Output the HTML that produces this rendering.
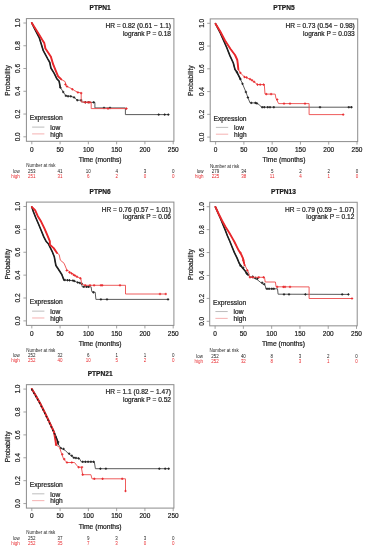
<!DOCTYPE html>
<html><head><meta charset="utf-8"><style>
html,body{margin:0;padding:0;background:#fff;width:367px;height:550px;overflow:hidden}
svg{display:block;font-family:"Liberation Sans", sans-serif;filter:blur(0.3px)}
text{stroke-width:0.2px;paint-order:normal}
</style></head><body>
<svg width="367" height="550" viewBox="0 0 367 550">
<rect width="367" height="550" fill="#fff"/>
<g transform="translate(0,0) scale(1,1)">
<text x="100.15" y="10.1" text-anchor="middle" font-weight="bold" font-size="6.6" fill="#1a1a1a" stroke="#1a1a1a">PTPN1</text>
<rect x="26.4" y="18.6" width="147.50" height="122.70" fill="none" stroke="#8c8c8c" stroke-width="1.0"/>
<line x1="31.80" y1="141.3" x2="31.80" y2="144.3" stroke="#8c8c8c" stroke-width="0.8"/>
<text x="31.80" y="151.6" text-anchor="middle" font-size="6.5" fill="#1a1a1a" stroke="#1a1a1a">0</text>
<line x1="60.08" y1="141.3" x2="60.08" y2="144.3" stroke="#8c8c8c" stroke-width="0.8"/>
<text x="60.08" y="151.6" text-anchor="middle" font-size="6.5" fill="#1a1a1a" stroke="#1a1a1a">50</text>
<line x1="88.36" y1="141.3" x2="88.36" y2="144.3" stroke="#8c8c8c" stroke-width="0.8"/>
<text x="88.36" y="151.6" text-anchor="middle" font-size="6.5" fill="#1a1a1a" stroke="#1a1a1a">100</text>
<line x1="116.64" y1="141.3" x2="116.64" y2="144.3" stroke="#8c8c8c" stroke-width="0.8"/>
<text x="116.64" y="151.6" text-anchor="middle" font-size="6.5" fill="#1a1a1a" stroke="#1a1a1a">150</text>
<line x1="144.92" y1="141.3" x2="144.92" y2="144.3" stroke="#8c8c8c" stroke-width="0.8"/>
<text x="144.92" y="151.6" text-anchor="middle" font-size="6.5" fill="#1a1a1a" stroke="#1a1a1a">200</text>
<line x1="173.20" y1="141.3" x2="173.20" y2="144.3" stroke="#8c8c8c" stroke-width="0.8"/>
<text x="173.20" y="151.6" text-anchor="middle" font-size="6.5" fill="#1a1a1a" stroke="#1a1a1a">250</text>
<line x1="26.4" y1="136.80" x2="23.4" y2="136.80" stroke="#8c8c8c" stroke-width="0.8"/>
<text transform="translate(20.2,136.80) rotate(-90)" text-anchor="middle" font-size="6.5" fill="#1a1a1a" stroke="#1a1a1a">0.0</text>
<line x1="26.4" y1="114.04" x2="23.4" y2="114.04" stroke="#8c8c8c" stroke-width="0.8"/>
<text transform="translate(20.2,114.04) rotate(-90)" text-anchor="middle" font-size="6.5" fill="#1a1a1a" stroke="#1a1a1a">0.2</text>
<line x1="26.4" y1="91.28" x2="23.4" y2="91.28" stroke="#8c8c8c" stroke-width="0.8"/>
<text transform="translate(20.2,91.28) rotate(-90)" text-anchor="middle" font-size="6.5" fill="#1a1a1a" stroke="#1a1a1a">0.4</text>
<line x1="26.4" y1="68.52" x2="23.4" y2="68.52" stroke="#8c8c8c" stroke-width="0.8"/>
<text transform="translate(20.2,68.52) rotate(-90)" text-anchor="middle" font-size="6.5" fill="#1a1a1a" stroke="#1a1a1a">0.6</text>
<line x1="26.4" y1="45.76" x2="23.4" y2="45.76" stroke="#8c8c8c" stroke-width="0.8"/>
<text transform="translate(20.2,45.76) rotate(-90)" text-anchor="middle" font-size="6.5" fill="#1a1a1a" stroke="#1a1a1a">0.8</text>
<line x1="26.4" y1="23.00" x2="23.4" y2="23.00" stroke="#8c8c8c" stroke-width="0.8"/>
<text transform="translate(20.2,23.00) rotate(-90)" text-anchor="middle" font-size="6.5" fill="#1a1a1a" stroke="#1a1a1a">1.0</text>
<text transform="translate(9.5,80.4) rotate(-90)" text-anchor="middle" font-size="6.55" fill="#1a1a1a" stroke="#1a1a1a">Probability</text>
<text x="100.15" y="161.7" text-anchor="middle" font-size="6.7" fill="#1a1a1a" stroke="#1a1a1a">Time (months)</text>
<text x="171" y="28.0" text-anchor="end" font-size="6.6" fill="#1a1a1a" stroke="#1a1a1a">HR = 0.82 (0.61 − 1.1)</text>
<text x="171" y="35.6" text-anchor="end" font-size="6.6" fill="#1a1a1a" stroke="#1a1a1a">logrank P = 0.18</text>
<text x="29.7" y="120.4" font-size="6.7" fill="#1a1a1a" stroke="#1a1a1a">Expression</text>
<line x1="32.1" y1="127.1" x2="44.4" y2="127.1" stroke="#a0a0a0" stroke-width="0.7"/>
<line x1="32.1" y1="133.9" x2="44.4" y2="133.9" stroke="#f09090" stroke-width="0.7"/>
<text x="50.3" y="129.8" font-size="6.6" fill="#1a1a1a" stroke="#1a1a1a">low</text>
<text x="50.3" y="136.6" font-size="6.6" fill="#1a1a1a" stroke="#1a1a1a">high</text>
<text x="26.2" y="167.3" font-size="4.5" fill="#1a1a1a" stroke="none">Number at risk</text>
<text x="19.8" y="172.9" text-anchor="end" font-size="4.5" fill="#1a1a1a" stroke="none">low</text>
<text x="19.8" y="177.9" text-anchor="end" font-size="4.5" fill="#e8282c" stroke="none">high</text>
<text x="31.80" y="172.9" text-anchor="middle" font-size="4.5" fill="#1a1a1a" stroke="none">253</text>
<text x="31.80" y="177.9" text-anchor="middle" font-size="4.5" fill="#e8282c" stroke="none">251</text>
<text x="60.08" y="172.9" text-anchor="middle" font-size="4.5" fill="#1a1a1a" stroke="none">41</text>
<text x="60.08" y="177.9" text-anchor="middle" font-size="4.5" fill="#e8282c" stroke="none">31</text>
<text x="88.36" y="172.9" text-anchor="middle" font-size="4.5" fill="#1a1a1a" stroke="none">10</text>
<text x="88.36" y="177.9" text-anchor="middle" font-size="4.5" fill="#e8282c" stroke="none">6</text>
<text x="116.64" y="172.9" text-anchor="middle" font-size="4.5" fill="#1a1a1a" stroke="none">4</text>
<text x="116.64" y="177.9" text-anchor="middle" font-size="4.5" fill="#e8282c" stroke="none">2</text>
<text x="144.92" y="172.9" text-anchor="middle" font-size="4.5" fill="#1a1a1a" stroke="none">3</text>
<text x="144.92" y="177.9" text-anchor="middle" font-size="4.5" fill="#e8282c" stroke="none">0</text>
<text x="173.20" y="172.9" text-anchor="middle" font-size="4.5" fill="#1a1a1a" stroke="none">0</text>
<text x="173.20" y="177.9" text-anchor="middle" font-size="4.5" fill="#e8282c" stroke="none">0</text>
</g><g transform="translate(183.8,0.3) scale(1,1.0)">
<text x="100.15" y="10.1" text-anchor="middle" font-weight="bold" font-size="6.6" fill="#1a1a1a" stroke="#1a1a1a">PTPN5</text>
<rect x="26.4" y="18.6" width="147.50" height="122.70" fill="none" stroke="#8c8c8c" stroke-width="1.0"/>
<line x1="31.80" y1="141.3" x2="31.80" y2="144.3" stroke="#8c8c8c" stroke-width="0.8"/>
<text x="31.80" y="151.6" text-anchor="middle" font-size="6.5" fill="#1a1a1a" stroke="#1a1a1a">0</text>
<line x1="60.08" y1="141.3" x2="60.08" y2="144.3" stroke="#8c8c8c" stroke-width="0.8"/>
<text x="60.08" y="151.6" text-anchor="middle" font-size="6.5" fill="#1a1a1a" stroke="#1a1a1a">50</text>
<line x1="88.36" y1="141.3" x2="88.36" y2="144.3" stroke="#8c8c8c" stroke-width="0.8"/>
<text x="88.36" y="151.6" text-anchor="middle" font-size="6.5" fill="#1a1a1a" stroke="#1a1a1a">100</text>
<line x1="116.64" y1="141.3" x2="116.64" y2="144.3" stroke="#8c8c8c" stroke-width="0.8"/>
<text x="116.64" y="151.6" text-anchor="middle" font-size="6.5" fill="#1a1a1a" stroke="#1a1a1a">150</text>
<line x1="144.92" y1="141.3" x2="144.92" y2="144.3" stroke="#8c8c8c" stroke-width="0.8"/>
<text x="144.92" y="151.6" text-anchor="middle" font-size="6.5" fill="#1a1a1a" stroke="#1a1a1a">200</text>
<line x1="173.20" y1="141.3" x2="173.20" y2="144.3" stroke="#8c8c8c" stroke-width="0.8"/>
<text x="173.20" y="151.6" text-anchor="middle" font-size="6.5" fill="#1a1a1a" stroke="#1a1a1a">250</text>
<line x1="26.4" y1="136.80" x2="23.4" y2="136.80" stroke="#8c8c8c" stroke-width="0.8"/>
<text transform="translate(20.2,136.80) rotate(-90)" text-anchor="middle" font-size="6.5" fill="#1a1a1a" stroke="#1a1a1a">0.0</text>
<line x1="26.4" y1="114.04" x2="23.4" y2="114.04" stroke="#8c8c8c" stroke-width="0.8"/>
<text transform="translate(20.2,114.04) rotate(-90)" text-anchor="middle" font-size="6.5" fill="#1a1a1a" stroke="#1a1a1a">0.2</text>
<line x1="26.4" y1="91.28" x2="23.4" y2="91.28" stroke="#8c8c8c" stroke-width="0.8"/>
<text transform="translate(20.2,91.28) rotate(-90)" text-anchor="middle" font-size="6.5" fill="#1a1a1a" stroke="#1a1a1a">0.4</text>
<line x1="26.4" y1="68.52" x2="23.4" y2="68.52" stroke="#8c8c8c" stroke-width="0.8"/>
<text transform="translate(20.2,68.52) rotate(-90)" text-anchor="middle" font-size="6.5" fill="#1a1a1a" stroke="#1a1a1a">0.6</text>
<line x1="26.4" y1="45.76" x2="23.4" y2="45.76" stroke="#8c8c8c" stroke-width="0.8"/>
<text transform="translate(20.2,45.76) rotate(-90)" text-anchor="middle" font-size="6.5" fill="#1a1a1a" stroke="#1a1a1a">0.8</text>
<line x1="26.4" y1="23.00" x2="23.4" y2="23.00" stroke="#8c8c8c" stroke-width="0.8"/>
<text transform="translate(20.2,23.00) rotate(-90)" text-anchor="middle" font-size="6.5" fill="#1a1a1a" stroke="#1a1a1a">1.0</text>
<text transform="translate(9.5,80.4) rotate(-90)" text-anchor="middle" font-size="6.55" fill="#1a1a1a" stroke="#1a1a1a">Probability</text>
<text x="100.15" y="161.7" text-anchor="middle" font-size="6.7" fill="#1a1a1a" stroke="#1a1a1a">Time (months)</text>
<text x="171" y="28.0" text-anchor="end" font-size="6.6" fill="#1a1a1a" stroke="#1a1a1a">HR = 0.73 (0.54 − 0.98)</text>
<text x="171" y="35.6" text-anchor="end" font-size="6.6" fill="#1a1a1a" stroke="#1a1a1a">logrank P = 0.033</text>
<text x="29.7" y="120.4" font-size="6.7" fill="#1a1a1a" stroke="#1a1a1a">Expression</text>
<line x1="32.1" y1="127.1" x2="44.4" y2="127.1" stroke="#a0a0a0" stroke-width="0.7"/>
<line x1="32.1" y1="133.9" x2="44.4" y2="133.9" stroke="#f09090" stroke-width="0.7"/>
<text x="50.3" y="129.8" font-size="6.6" fill="#1a1a1a" stroke="#1a1a1a">low</text>
<text x="50.3" y="136.6" font-size="6.6" fill="#1a1a1a" stroke="#1a1a1a">high</text>
<text x="26.2" y="167.3" font-size="4.5" fill="#1a1a1a" stroke="none">Number at risk</text>
<text x="19.8" y="172.9" text-anchor="end" font-size="4.5" fill="#1a1a1a" stroke="none">low</text>
<text x="19.8" y="177.9" text-anchor="end" font-size="4.5" fill="#e8282c" stroke="none">high</text>
<text x="31.80" y="172.9" text-anchor="middle" font-size="4.5" fill="#1a1a1a" stroke="none">279</text>
<text x="31.80" y="177.9" text-anchor="middle" font-size="4.5" fill="#e8282c" stroke="none">225</text>
<text x="60.08" y="172.9" text-anchor="middle" font-size="4.5" fill="#1a1a1a" stroke="none">34</text>
<text x="60.08" y="177.9" text-anchor="middle" font-size="4.5" fill="#e8282c" stroke="none">38</text>
<text x="88.36" y="172.9" text-anchor="middle" font-size="4.5" fill="#1a1a1a" stroke="none">5</text>
<text x="88.36" y="177.9" text-anchor="middle" font-size="4.5" fill="#e8282c" stroke="none">11</text>
<text x="116.64" y="172.9" text-anchor="middle" font-size="4.5" fill="#1a1a1a" stroke="none">2</text>
<text x="116.64" y="177.9" text-anchor="middle" font-size="4.5" fill="#e8282c" stroke="none">4</text>
<text x="144.92" y="172.9" text-anchor="middle" font-size="4.5" fill="#1a1a1a" stroke="none">2</text>
<text x="144.92" y="177.9" text-anchor="middle" font-size="4.5" fill="#e8282c" stroke="none">1</text>
<text x="173.20" y="172.9" text-anchor="middle" font-size="4.5" fill="#1a1a1a" stroke="none">0</text>
<text x="173.20" y="177.9" text-anchor="middle" font-size="4.5" fill="#e8282c" stroke="none">0</text>
</g><g transform="translate(0,183.4) scale(1,1.005)">
<text x="100.15" y="10.1" text-anchor="middle" font-weight="bold" font-size="6.6" fill="#1a1a1a" stroke="#1a1a1a">PTPN6</text>
<rect x="26.4" y="18.6" width="147.50" height="122.70" fill="none" stroke="#8c8c8c" stroke-width="1.0"/>
<line x1="31.80" y1="141.3" x2="31.80" y2="144.3" stroke="#8c8c8c" stroke-width="0.8"/>
<text x="31.80" y="151.6" text-anchor="middle" font-size="6.5" fill="#1a1a1a" stroke="#1a1a1a">0</text>
<line x1="60.08" y1="141.3" x2="60.08" y2="144.3" stroke="#8c8c8c" stroke-width="0.8"/>
<text x="60.08" y="151.6" text-anchor="middle" font-size="6.5" fill="#1a1a1a" stroke="#1a1a1a">50</text>
<line x1="88.36" y1="141.3" x2="88.36" y2="144.3" stroke="#8c8c8c" stroke-width="0.8"/>
<text x="88.36" y="151.6" text-anchor="middle" font-size="6.5" fill="#1a1a1a" stroke="#1a1a1a">100</text>
<line x1="116.64" y1="141.3" x2="116.64" y2="144.3" stroke="#8c8c8c" stroke-width="0.8"/>
<text x="116.64" y="151.6" text-anchor="middle" font-size="6.5" fill="#1a1a1a" stroke="#1a1a1a">150</text>
<line x1="144.92" y1="141.3" x2="144.92" y2="144.3" stroke="#8c8c8c" stroke-width="0.8"/>
<text x="144.92" y="151.6" text-anchor="middle" font-size="6.5" fill="#1a1a1a" stroke="#1a1a1a">200</text>
<line x1="173.20" y1="141.3" x2="173.20" y2="144.3" stroke="#8c8c8c" stroke-width="0.8"/>
<text x="173.20" y="151.6" text-anchor="middle" font-size="6.5" fill="#1a1a1a" stroke="#1a1a1a">250</text>
<line x1="26.4" y1="136.80" x2="23.4" y2="136.80" stroke="#8c8c8c" stroke-width="0.8"/>
<text transform="translate(20.2,136.80) rotate(-90)" text-anchor="middle" font-size="6.5" fill="#1a1a1a" stroke="#1a1a1a">0.0</text>
<line x1="26.4" y1="114.04" x2="23.4" y2="114.04" stroke="#8c8c8c" stroke-width="0.8"/>
<text transform="translate(20.2,114.04) rotate(-90)" text-anchor="middle" font-size="6.5" fill="#1a1a1a" stroke="#1a1a1a">0.2</text>
<line x1="26.4" y1="91.28" x2="23.4" y2="91.28" stroke="#8c8c8c" stroke-width="0.8"/>
<text transform="translate(20.2,91.28) rotate(-90)" text-anchor="middle" font-size="6.5" fill="#1a1a1a" stroke="#1a1a1a">0.4</text>
<line x1="26.4" y1="68.52" x2="23.4" y2="68.52" stroke="#8c8c8c" stroke-width="0.8"/>
<text transform="translate(20.2,68.52) rotate(-90)" text-anchor="middle" font-size="6.5" fill="#1a1a1a" stroke="#1a1a1a">0.6</text>
<line x1="26.4" y1="45.76" x2="23.4" y2="45.76" stroke="#8c8c8c" stroke-width="0.8"/>
<text transform="translate(20.2,45.76) rotate(-90)" text-anchor="middle" font-size="6.5" fill="#1a1a1a" stroke="#1a1a1a">0.8</text>
<line x1="26.4" y1="23.00" x2="23.4" y2="23.00" stroke="#8c8c8c" stroke-width="0.8"/>
<text transform="translate(20.2,23.00) rotate(-90)" text-anchor="middle" font-size="6.5" fill="#1a1a1a" stroke="#1a1a1a">1.0</text>
<text transform="translate(9.5,80.4) rotate(-90)" text-anchor="middle" font-size="6.55" fill="#1a1a1a" stroke="#1a1a1a">Probability</text>
<text x="100.15" y="161.7" text-anchor="middle" font-size="6.7" fill="#1a1a1a" stroke="#1a1a1a">Time (months)</text>
<text x="171" y="28.0" text-anchor="end" font-size="6.6" fill="#1a1a1a" stroke="#1a1a1a">HR = 0.76 (0.57 − 1.01)</text>
<text x="171" y="35.6" text-anchor="end" font-size="6.6" fill="#1a1a1a" stroke="#1a1a1a">logrank P = 0.06</text>
<text x="29.7" y="120.4" font-size="6.7" fill="#1a1a1a" stroke="#1a1a1a">Expression</text>
<line x1="32.1" y1="127.1" x2="44.4" y2="127.1" stroke="#a0a0a0" stroke-width="0.7"/>
<line x1="32.1" y1="133.9" x2="44.4" y2="133.9" stroke="#f09090" stroke-width="0.7"/>
<text x="50.3" y="129.8" font-size="6.6" fill="#1a1a1a" stroke="#1a1a1a">low</text>
<text x="50.3" y="136.6" font-size="6.6" fill="#1a1a1a" stroke="#1a1a1a">high</text>
<text x="26.2" y="167.3" font-size="4.5" fill="#1a1a1a" stroke="none">Number at risk</text>
<text x="19.8" y="172.9" text-anchor="end" font-size="4.5" fill="#1a1a1a" stroke="none">low</text>
<text x="19.8" y="177.9" text-anchor="end" font-size="4.5" fill="#e8282c" stroke="none">high</text>
<text x="31.80" y="172.9" text-anchor="middle" font-size="4.5" fill="#1a1a1a" stroke="none">252</text>
<text x="31.80" y="177.9" text-anchor="middle" font-size="4.5" fill="#e8282c" stroke="none">252</text>
<text x="60.08" y="172.9" text-anchor="middle" font-size="4.5" fill="#1a1a1a" stroke="none">32</text>
<text x="60.08" y="177.9" text-anchor="middle" font-size="4.5" fill="#e8282c" stroke="none">40</text>
<text x="88.36" y="172.9" text-anchor="middle" font-size="4.5" fill="#1a1a1a" stroke="none">6</text>
<text x="88.36" y="177.9" text-anchor="middle" font-size="4.5" fill="#e8282c" stroke="none">10</text>
<text x="116.64" y="172.9" text-anchor="middle" font-size="4.5" fill="#1a1a1a" stroke="none">1</text>
<text x="116.64" y="177.9" text-anchor="middle" font-size="4.5" fill="#e8282c" stroke="none">5</text>
<text x="144.92" y="172.9" text-anchor="middle" font-size="4.5" fill="#1a1a1a" stroke="none">1</text>
<text x="144.92" y="177.9" text-anchor="middle" font-size="4.5" fill="#e8282c" stroke="none">2</text>
<text x="173.20" y="172.9" text-anchor="middle" font-size="4.5" fill="#1a1a1a" stroke="none">0</text>
<text x="173.20" y="177.9" text-anchor="middle" font-size="4.5" fill="#e8282c" stroke="none">0</text>
</g><g transform="translate(183.3,183.55) scale(1,1.007)">
<text x="100.15" y="10.1" text-anchor="middle" font-weight="bold" font-size="6.6" fill="#1a1a1a" stroke="#1a1a1a">PTPN13</text>
<rect x="26.4" y="18.6" width="147.50" height="122.70" fill="none" stroke="#8c8c8c" stroke-width="1.0"/>
<line x1="31.80" y1="141.3" x2="31.80" y2="144.3" stroke="#8c8c8c" stroke-width="0.8"/>
<text x="31.80" y="151.6" text-anchor="middle" font-size="6.5" fill="#1a1a1a" stroke="#1a1a1a">0</text>
<line x1="60.08" y1="141.3" x2="60.08" y2="144.3" stroke="#8c8c8c" stroke-width="0.8"/>
<text x="60.08" y="151.6" text-anchor="middle" font-size="6.5" fill="#1a1a1a" stroke="#1a1a1a">50</text>
<line x1="88.36" y1="141.3" x2="88.36" y2="144.3" stroke="#8c8c8c" stroke-width="0.8"/>
<text x="88.36" y="151.6" text-anchor="middle" font-size="6.5" fill="#1a1a1a" stroke="#1a1a1a">100</text>
<line x1="116.64" y1="141.3" x2="116.64" y2="144.3" stroke="#8c8c8c" stroke-width="0.8"/>
<text x="116.64" y="151.6" text-anchor="middle" font-size="6.5" fill="#1a1a1a" stroke="#1a1a1a">150</text>
<line x1="144.92" y1="141.3" x2="144.92" y2="144.3" stroke="#8c8c8c" stroke-width="0.8"/>
<text x="144.92" y="151.6" text-anchor="middle" font-size="6.5" fill="#1a1a1a" stroke="#1a1a1a">200</text>
<line x1="173.20" y1="141.3" x2="173.20" y2="144.3" stroke="#8c8c8c" stroke-width="0.8"/>
<text x="173.20" y="151.6" text-anchor="middle" font-size="6.5" fill="#1a1a1a" stroke="#1a1a1a">250</text>
<line x1="26.4" y1="136.80" x2="23.4" y2="136.80" stroke="#8c8c8c" stroke-width="0.8"/>
<text transform="translate(20.2,136.80) rotate(-90)" text-anchor="middle" font-size="6.5" fill="#1a1a1a" stroke="#1a1a1a">0.0</text>
<line x1="26.4" y1="114.04" x2="23.4" y2="114.04" stroke="#8c8c8c" stroke-width="0.8"/>
<text transform="translate(20.2,114.04) rotate(-90)" text-anchor="middle" font-size="6.5" fill="#1a1a1a" stroke="#1a1a1a">0.2</text>
<line x1="26.4" y1="91.28" x2="23.4" y2="91.28" stroke="#8c8c8c" stroke-width="0.8"/>
<text transform="translate(20.2,91.28) rotate(-90)" text-anchor="middle" font-size="6.5" fill="#1a1a1a" stroke="#1a1a1a">0.4</text>
<line x1="26.4" y1="68.52" x2="23.4" y2="68.52" stroke="#8c8c8c" stroke-width="0.8"/>
<text transform="translate(20.2,68.52) rotate(-90)" text-anchor="middle" font-size="6.5" fill="#1a1a1a" stroke="#1a1a1a">0.6</text>
<line x1="26.4" y1="45.76" x2="23.4" y2="45.76" stroke="#8c8c8c" stroke-width="0.8"/>
<text transform="translate(20.2,45.76) rotate(-90)" text-anchor="middle" font-size="6.5" fill="#1a1a1a" stroke="#1a1a1a">0.8</text>
<line x1="26.4" y1="23.00" x2="23.4" y2="23.00" stroke="#8c8c8c" stroke-width="0.8"/>
<text transform="translate(20.2,23.00) rotate(-90)" text-anchor="middle" font-size="6.5" fill="#1a1a1a" stroke="#1a1a1a">1.0</text>
<text transform="translate(9.5,80.4) rotate(-90)" text-anchor="middle" font-size="6.55" fill="#1a1a1a" stroke="#1a1a1a">Probability</text>
<text x="100.15" y="161.7" text-anchor="middle" font-size="6.7" fill="#1a1a1a" stroke="#1a1a1a">Time (months)</text>
<text x="171" y="28.0" text-anchor="end" font-size="6.6" fill="#1a1a1a" stroke="#1a1a1a">HR = 0.79 (0.59 − 1.07)</text>
<text x="171" y="35.6" text-anchor="end" font-size="6.6" fill="#1a1a1a" stroke="#1a1a1a">logrank P = 0.12</text>
<text x="29.7" y="120.4" font-size="6.7" fill="#1a1a1a" stroke="#1a1a1a">Expression</text>
<line x1="32.1" y1="127.1" x2="44.4" y2="127.1" stroke="#a0a0a0" stroke-width="0.7"/>
<line x1="32.1" y1="133.9" x2="44.4" y2="133.9" stroke="#f09090" stroke-width="0.7"/>
<text x="50.3" y="129.8" font-size="6.6" fill="#1a1a1a" stroke="#1a1a1a">low</text>
<text x="50.3" y="136.6" font-size="6.6" fill="#1a1a1a" stroke="#1a1a1a">high</text>
<text x="26.2" y="167.3" font-size="4.5" fill="#1a1a1a" stroke="none">Number at risk</text>
<text x="19.8" y="172.9" text-anchor="end" font-size="4.5" fill="#1a1a1a" stroke="none">low</text>
<text x="19.8" y="177.9" text-anchor="end" font-size="4.5" fill="#e8282c" stroke="none">high</text>
<text x="31.80" y="172.9" text-anchor="middle" font-size="4.5" fill="#1a1a1a" stroke="none">252</text>
<text x="31.80" y="177.9" text-anchor="middle" font-size="4.5" fill="#e8282c" stroke="none">252</text>
<text x="60.08" y="172.9" text-anchor="middle" font-size="4.5" fill="#1a1a1a" stroke="none">40</text>
<text x="60.08" y="177.9" text-anchor="middle" font-size="4.5" fill="#e8282c" stroke="none">32</text>
<text x="88.36" y="172.9" text-anchor="middle" font-size="4.5" fill="#1a1a1a" stroke="none">8</text>
<text x="88.36" y="177.9" text-anchor="middle" font-size="4.5" fill="#e8282c" stroke="none">8</text>
<text x="116.64" y="172.9" text-anchor="middle" font-size="4.5" fill="#1a1a1a" stroke="none">3</text>
<text x="116.64" y="177.9" text-anchor="middle" font-size="4.5" fill="#e8282c" stroke="none">3</text>
<text x="144.92" y="172.9" text-anchor="middle" font-size="4.5" fill="#1a1a1a" stroke="none">2</text>
<text x="144.92" y="177.9" text-anchor="middle" font-size="4.5" fill="#e8282c" stroke="none">1</text>
<text x="173.20" y="172.9" text-anchor="middle" font-size="4.5" fill="#1a1a1a" stroke="none">0</text>
<text x="173.20" y="177.9" text-anchor="middle" font-size="4.5" fill="#e8282c" stroke="none">0</text>
</g><g transform="translate(0,365.95) scale(1,1.006)">
<text x="100.15" y="10.1" text-anchor="middle" font-weight="bold" font-size="6.6" fill="#1a1a1a" stroke="#1a1a1a">PTPN21</text>
<rect x="26.4" y="18.6" width="147.50" height="122.70" fill="none" stroke="#8c8c8c" stroke-width="1.0"/>
<line x1="31.80" y1="141.3" x2="31.80" y2="144.3" stroke="#8c8c8c" stroke-width="0.8"/>
<text x="31.80" y="151.6" text-anchor="middle" font-size="6.5" fill="#1a1a1a" stroke="#1a1a1a">0</text>
<line x1="60.08" y1="141.3" x2="60.08" y2="144.3" stroke="#8c8c8c" stroke-width="0.8"/>
<text x="60.08" y="151.6" text-anchor="middle" font-size="6.5" fill="#1a1a1a" stroke="#1a1a1a">50</text>
<line x1="88.36" y1="141.3" x2="88.36" y2="144.3" stroke="#8c8c8c" stroke-width="0.8"/>
<text x="88.36" y="151.6" text-anchor="middle" font-size="6.5" fill="#1a1a1a" stroke="#1a1a1a">100</text>
<line x1="116.64" y1="141.3" x2="116.64" y2="144.3" stroke="#8c8c8c" stroke-width="0.8"/>
<text x="116.64" y="151.6" text-anchor="middle" font-size="6.5" fill="#1a1a1a" stroke="#1a1a1a">150</text>
<line x1="144.92" y1="141.3" x2="144.92" y2="144.3" stroke="#8c8c8c" stroke-width="0.8"/>
<text x="144.92" y="151.6" text-anchor="middle" font-size="6.5" fill="#1a1a1a" stroke="#1a1a1a">200</text>
<line x1="173.20" y1="141.3" x2="173.20" y2="144.3" stroke="#8c8c8c" stroke-width="0.8"/>
<text x="173.20" y="151.6" text-anchor="middle" font-size="6.5" fill="#1a1a1a" stroke="#1a1a1a">250</text>
<line x1="26.4" y1="136.80" x2="23.4" y2="136.80" stroke="#8c8c8c" stroke-width="0.8"/>
<text transform="translate(20.2,136.80) rotate(-90)" text-anchor="middle" font-size="6.5" fill="#1a1a1a" stroke="#1a1a1a">0.0</text>
<line x1="26.4" y1="114.04" x2="23.4" y2="114.04" stroke="#8c8c8c" stroke-width="0.8"/>
<text transform="translate(20.2,114.04) rotate(-90)" text-anchor="middle" font-size="6.5" fill="#1a1a1a" stroke="#1a1a1a">0.2</text>
<line x1="26.4" y1="91.28" x2="23.4" y2="91.28" stroke="#8c8c8c" stroke-width="0.8"/>
<text transform="translate(20.2,91.28) rotate(-90)" text-anchor="middle" font-size="6.5" fill="#1a1a1a" stroke="#1a1a1a">0.4</text>
<line x1="26.4" y1="68.52" x2="23.4" y2="68.52" stroke="#8c8c8c" stroke-width="0.8"/>
<text transform="translate(20.2,68.52) rotate(-90)" text-anchor="middle" font-size="6.5" fill="#1a1a1a" stroke="#1a1a1a">0.6</text>
<line x1="26.4" y1="45.76" x2="23.4" y2="45.76" stroke="#8c8c8c" stroke-width="0.8"/>
<text transform="translate(20.2,45.76) rotate(-90)" text-anchor="middle" font-size="6.5" fill="#1a1a1a" stroke="#1a1a1a">0.8</text>
<line x1="26.4" y1="23.00" x2="23.4" y2="23.00" stroke="#8c8c8c" stroke-width="0.8"/>
<text transform="translate(20.2,23.00) rotate(-90)" text-anchor="middle" font-size="6.5" fill="#1a1a1a" stroke="#1a1a1a">1.0</text>
<text transform="translate(9.5,80.4) rotate(-90)" text-anchor="middle" font-size="6.55" fill="#1a1a1a" stroke="#1a1a1a">Probability</text>
<text x="100.15" y="161.7" text-anchor="middle" font-size="6.7" fill="#1a1a1a" stroke="#1a1a1a">Time (months)</text>
<text x="171" y="28.0" text-anchor="end" font-size="6.6" fill="#1a1a1a" stroke="#1a1a1a">HR = 1.1 (0.82 − 1.47)</text>
<text x="171" y="35.6" text-anchor="end" font-size="6.6" fill="#1a1a1a" stroke="#1a1a1a">logrank P = 0.52</text>
<text x="29.7" y="120.4" font-size="6.7" fill="#1a1a1a" stroke="#1a1a1a">Expression</text>
<line x1="32.1" y1="127.1" x2="44.4" y2="127.1" stroke="#a0a0a0" stroke-width="0.7"/>
<line x1="32.1" y1="133.9" x2="44.4" y2="133.9" stroke="#f09090" stroke-width="0.7"/>
<text x="50.3" y="129.8" font-size="6.6" fill="#1a1a1a" stroke="#1a1a1a">low</text>
<text x="50.3" y="136.6" font-size="6.6" fill="#1a1a1a" stroke="#1a1a1a">high</text>
<text x="26.2" y="167.3" font-size="4.5" fill="#1a1a1a" stroke="none">Number at risk</text>
<text x="19.8" y="172.9" text-anchor="end" font-size="4.5" fill="#1a1a1a" stroke="none">low</text>
<text x="19.8" y="177.9" text-anchor="end" font-size="4.5" fill="#e8282c" stroke="none">high</text>
<text x="31.80" y="172.9" text-anchor="middle" font-size="4.5" fill="#1a1a1a" stroke="none">252</text>
<text x="31.80" y="177.9" text-anchor="middle" font-size="4.5" fill="#e8282c" stroke="none">252</text>
<text x="60.08" y="172.9" text-anchor="middle" font-size="4.5" fill="#1a1a1a" stroke="none">37</text>
<text x="60.08" y="177.9" text-anchor="middle" font-size="4.5" fill="#e8282c" stroke="none">35</text>
<text x="88.36" y="172.9" text-anchor="middle" font-size="4.5" fill="#1a1a1a" stroke="none">9</text>
<text x="88.36" y="177.9" text-anchor="middle" font-size="4.5" fill="#e8282c" stroke="none">7</text>
<text x="116.64" y="172.9" text-anchor="middle" font-size="4.5" fill="#1a1a1a" stroke="none">3</text>
<text x="116.64" y="177.9" text-anchor="middle" font-size="4.5" fill="#e8282c" stroke="none">3</text>
<text x="144.92" y="172.9" text-anchor="middle" font-size="4.5" fill="#1a1a1a" stroke="none">3</text>
<text x="144.92" y="177.9" text-anchor="middle" font-size="4.5" fill="#e8282c" stroke="none">0</text>
<text x="173.20" y="172.9" text-anchor="middle" font-size="4.5" fill="#1a1a1a" stroke="none">0</text>
<text x="173.20" y="177.9" text-anchor="middle" font-size="4.5" fill="#e8282c" stroke="none">0</text>
</g>
<polyline points="31.80,22.90 34.40,28.40 39.20,37.60 41.30,44.20 43.30,50.70 46.00,55.60 47.60,58.70 49.80,62.50 50.90,68.00 54.20,73.40 56.90,78.90 59.10,81.10 60.20,87.00 63.20,92.00 65.90,95.80 70.80,96.30 74.10,97.40 77.30,100.20 81.20,100.20 81.20,101.80 85.50,102.30 94.90,102.40 94.90,107.90 125.40,107.90 125.40,114.60 169.20,114.60" fill="none" stroke="#484848" stroke-width="0.9" stroke-linejoin="miter"/>
<polyline points="31.80,22.90 34.40,28.40 39.20,37.60 41.30,44.20 43.30,50.70 46.00,55.60 47.60,58.70 49.80,62.50 50.90,68.00 54.20,73.40 56.90,78.90 59.10,81.10 60.20,87.00" fill="none" stroke="#1e1e1e" stroke-width="1.6" stroke-linejoin="round" stroke-linecap="round"/>
<path d="M157.50 114.60H159.90M158.70 113.40V115.80" stroke="#1e1e1e" stroke-width="0.9"/>
<path d="M163.50 114.60H165.90M164.70 113.40V115.80" stroke="#1e1e1e" stroke-width="0.9"/>
<path d="M167.10 114.60H169.50M168.30 113.40V115.80" stroke="#1e1e1e" stroke-width="0.9"/>
<path d="M102.80 107.90H105.20M104.00 106.70V109.10" stroke="#1e1e1e" stroke-width="0.9"/>
<path d="M108.80 107.90H111.20M110.00 106.70V109.10" stroke="#1e1e1e" stroke-width="0.9"/>
<path d="M59.20 87.60H61.60M60.40 86.40V88.80" stroke="#1e1e1e" stroke-width="0.9"/>
<path d="M62.00 92.00H64.40M63.20 90.80V93.20" stroke="#1e1e1e" stroke-width="0.9"/>
<path d="M64.70 95.80H67.10M65.90 94.60V97.00" stroke="#1e1e1e" stroke-width="0.9"/>
<path d="M66.90 96.30H69.30M68.10 95.10V97.50" stroke="#1e1e1e" stroke-width="0.9"/>
<path d="M69.60 96.30H72.00M70.80 95.10V97.50" stroke="#1e1e1e" stroke-width="0.9"/>
<path d="M72.90 97.40H75.30M74.10 96.20V98.60" stroke="#1e1e1e" stroke-width="0.9"/>
<path d="M76.10 100.20H78.50M77.30 99.00V101.40" stroke="#1e1e1e" stroke-width="0.9"/>
<path d="M80.00 100.20H82.40M81.20 99.00V101.40" stroke="#1e1e1e" stroke-width="0.9"/>
<path d="M84.30 102.30H86.70M85.50 101.10V103.50" stroke="#1e1e1e" stroke-width="0.9"/>
<path d="M87.60 102.30H90.00M88.80 101.10V103.50" stroke="#1e1e1e" stroke-width="0.9"/>
<path d="M92.50 102.30H94.90M93.70 101.10V103.50" stroke="#1e1e1e" stroke-width="0.9"/>
<polyline points="31.80,22.90 35.60,28.90 38.90,34.30 42.20,39.80 44.30,43.10 45.40,48.50 47.60,51.80 50.90,56.70 53.10,64.20 55.30,69.60 58.00,76.20 61.30,79.40 65.10,81.60 66.20,86.00 69.40,87.60 72.70,89.20 74.10,90.40 77.30,92.00 81.20,93.10 81.20,101.80 85.00,102.30 91.20,102.30 91.20,108.60 126.70,108.60" fill="none" stroke="#ec4a4a" stroke-width="0.9" stroke-linejoin="miter"/>
<polyline points="31.80,22.90 35.60,28.90 38.90,34.30 42.20,39.80 44.30,43.10 45.40,48.50 47.60,51.80 50.90,56.70 53.10,64.20 55.30,69.60 58.00,76.20 61.30,79.40" fill="none" stroke="#e8282c" stroke-width="1.9" stroke-linejoin="round" stroke-linecap="round"/>
<path d="M125.30 108.60H127.70M126.50 107.40V109.80" stroke="#e8282c" stroke-width="0.9"/>
<path d="M106.80 108.60H109.20M108.00 107.40V109.80" stroke="#e8282c" stroke-width="0.9"/>
<path d="M86.80 102.30H89.20M88.00 101.10V103.50" stroke="#e8282c" stroke-width="0.9"/>
<path d="M64.20 84.40H66.60M65.40 83.20V85.60" stroke="#e8282c" stroke-width="0.9"/>
<path d="M65.80 86.50H68.20M67.00 85.30V87.70" stroke="#e8282c" stroke-width="0.9"/>
<path d="M71.20 89.30H73.60M72.40 88.10V90.50" stroke="#e8282c" stroke-width="0.9"/>
<path d="M76.70 92.50H79.10M77.90 91.30V93.70" stroke="#e8282c" stroke-width="0.9"/>
<path d="M80.00 93.10H82.40M81.20 91.90V94.30" stroke="#e8282c" stroke-width="0.9"/>
<path d="M83.80 102.30H86.20M85.00 101.10V103.50" stroke="#e8282c" stroke-width="0.9"/>
<path d="M88.70 102.30H91.10M89.90 101.10V103.50" stroke="#e8282c" stroke-width="0.9"/><polyline points="215.50,23.70 220.50,33.50 226.80,47.70 229.90,55.60 233.30,63.00 235.00,69.50 237.00,72.30 240.40,79.10 242.50,83.80 245.90,92.00 247.90,97.50 250.00,102.90 255.40,102.90 258.80,104.30 261.60,107.20 352.40,107.20" fill="none" stroke="#484848" stroke-width="0.9" stroke-linejoin="miter"/>
<polyline points="215.50,23.70 220.50,33.50 226.80,47.70 229.90,55.60 233.30,63.00 235.00,69.50 237.00,72.30 240.40,79.10" fill="none" stroke="#1e1e1e" stroke-width="1.6" stroke-linejoin="round" stroke-linecap="round"/>
<path d="M347.60 107.20H350.00M348.80 106.00V108.40" stroke="#1e1e1e" stroke-width="0.9"/>
<path d="M350.20 107.20H352.60M351.40 106.00V108.40" stroke="#1e1e1e" stroke-width="0.9"/>
<path d="M268.80 107.20H271.20M270.00 106.00V108.40" stroke="#1e1e1e" stroke-width="0.9"/>
<path d="M261.00 107.20H263.40M262.20 106.00V108.40" stroke="#1e1e1e" stroke-width="0.9"/>
<path d="M263.10 107.20H265.50M264.30 106.00V108.40" stroke="#1e1e1e" stroke-width="0.9"/>
<path d="M266.50 107.20H268.90M267.70 106.00V108.40" stroke="#1e1e1e" stroke-width="0.9"/>
<path d="M272.60 107.20H275.00M273.80 106.00V108.40" stroke="#1e1e1e" stroke-width="0.9"/>
<path d="M318.80 107.20H321.20M320.00 106.00V108.40" stroke="#1e1e1e" stroke-width="0.9"/>
<path d="M235.80 72.30H238.20M237.00 71.10V73.50" stroke="#1e1e1e" stroke-width="0.9"/>
<path d="M239.20 79.10H241.60M240.40 77.90V80.30" stroke="#1e1e1e" stroke-width="0.9"/>
<path d="M241.30 83.80H243.70M242.50 82.60V85.00" stroke="#1e1e1e" stroke-width="0.9"/>
<path d="M244.70 92.00H247.10M245.90 90.80V93.20" stroke="#1e1e1e" stroke-width="0.9"/>
<path d="M246.70 97.50H249.10M247.90 96.30V98.70" stroke="#1e1e1e" stroke-width="0.9"/>
<path d="M250.10 102.90H252.50M251.30 101.70V104.10" stroke="#1e1e1e" stroke-width="0.9"/>
<path d="M254.20 102.90H256.60M255.40 101.70V104.10" stroke="#1e1e1e" stroke-width="0.9"/>
<path d="M255.60 103.30H258.00M256.80 102.10V104.50" stroke="#1e1e1e" stroke-width="0.9"/>
<polyline points="215.50,23.70 220.00,31.00 225.00,40.50 230.50,49.00 235.00,55.00 237.30,60.00 238.40,69.50 240.40,72.90 244.50,77.00 250.00,79.10 254.10,81.80 257.50,84.60 264.30,84.60 265.00,94.10 275.20,94.10 275.90,98.10 278.60,103.60 309.10,103.60 309.10,114.60 343.20,114.60" fill="none" stroke="#ec4a4a" stroke-width="0.9" stroke-linejoin="miter"/>
<polyline points="215.50,23.70 220.00,31.00 225.00,40.50 230.50,49.00 235.00,55.00 237.30,60.00 238.40,69.50" fill="none" stroke="#e8282c" stroke-width="1.9" stroke-linejoin="round" stroke-linecap="round"/>
<path d="M342.00 114.60H344.40M343.20 113.40V115.80" stroke="#e8282c" stroke-width="0.9"/>
<path d="M288.80 103.60H291.20M290.00 102.40V104.80" stroke="#e8282c" stroke-width="0.9"/>
<path d="M303.80 103.60H306.20M305.00 102.40V104.80" stroke="#e8282c" stroke-width="0.9"/>
<path d="M239.20 72.90H241.60M240.40 71.70V74.10" stroke="#e8282c" stroke-width="0.9"/>
<path d="M243.30 77.00H245.70M244.50 75.80V78.20" stroke="#e8282c" stroke-width="0.9"/>
<path d="M245.40 77.40H247.80M246.60 76.20V78.60" stroke="#e8282c" stroke-width="0.9"/>
<path d="M248.80 79.10H251.20M250.00 77.90V80.30" stroke="#e8282c" stroke-width="0.9"/>
<path d="M250.80 80.20H253.20M252.00 79.00V81.40" stroke="#e8282c" stroke-width="0.9"/>
<path d="M252.90 81.80H255.30M254.10 80.60V83.00" stroke="#e8282c" stroke-width="0.9"/>
<path d="M256.30 84.60H258.70M257.50 83.40V85.80" stroke="#e8282c" stroke-width="0.9"/>
<path d="M259.00 84.60H261.40M260.20 83.40V85.80" stroke="#e8282c" stroke-width="0.9"/>
<path d="M262.40 84.60H264.80M263.60 83.40V85.80" stroke="#e8282c" stroke-width="0.9"/>
<path d="M265.10 94.10H267.50M266.30 92.90V95.30" stroke="#e8282c" stroke-width="0.9"/>
<path d="M269.90 94.10H272.30M271.10 92.90V95.30" stroke="#e8282c" stroke-width="0.9"/>
<path d="M276.00 99.50H278.40M277.20 98.30V100.70" stroke="#e8282c" stroke-width="0.9"/>
<path d="M282.80 103.60H285.20M284.00 102.40V104.80" stroke="#e8282c" stroke-width="0.9"/><polyline points="31.80,206.90 33.40,211.80 35.60,217.30 38.40,223.80 41.10,230.30 43.80,236.90 46.00,241.20 48.30,243.70 52.10,251.30 54.30,256.80 55.90,265.50 58.10,268.80 61.80,274.50 63.90,280.00 72.70,280.70 76.80,282.00 81.60,283.40 82.20,286.80 91.10,286.80 91.80,291.60 95.20,292.20 95.90,299.40 169.10,299.40" fill="none" stroke="#484848" stroke-width="0.9" stroke-linejoin="miter"/>
<polyline points="31.80,206.90 33.40,211.80 35.60,217.30 38.40,223.80 41.10,230.30 43.80,236.90 46.00,241.20 48.30,243.70 52.10,251.30 54.30,256.80 55.90,265.50 58.10,268.80 61.80,274.50 63.90,280.00" fill="none" stroke="#1e1e1e" stroke-width="1.6" stroke-linejoin="round" stroke-linecap="round"/>
<path d="M99.70 299.40H102.10M100.90 298.20V300.60" stroke="#1e1e1e" stroke-width="0.9"/>
<path d="M105.80 299.40H108.20M107.00 298.20V300.60" stroke="#1e1e1e" stroke-width="0.9"/>
<path d="M166.80 299.40H169.20M168.00 298.20V300.60" stroke="#1e1e1e" stroke-width="0.9"/>
<path d="M63.60 280.00H66.00M64.80 278.80V281.20" stroke="#1e1e1e" stroke-width="0.9"/>
<path d="M66.30 280.20H68.70M67.50 279.00V281.40" stroke="#1e1e1e" stroke-width="0.9"/>
<path d="M68.30 280.30H70.70M69.50 279.10V281.50" stroke="#1e1e1e" stroke-width="0.9"/>
<path d="M71.70 280.50H74.10M72.90 279.30V281.70" stroke="#1e1e1e" stroke-width="0.9"/>
<path d="M73.10 281.00H75.50M74.30 279.80V282.20" stroke="#1e1e1e" stroke-width="0.9"/>
<path d="M76.50 282.50H78.90M77.70 281.30V283.70" stroke="#1e1e1e" stroke-width="0.9"/>
<path d="M78.60 283.00H81.00M79.80 281.80V284.20" stroke="#1e1e1e" stroke-width="0.9"/>
<path d="M80.60 283.80H83.00M81.80 282.60V285.00" stroke="#1e1e1e" stroke-width="0.9"/>
<path d="M82.60 286.80H85.00M83.80 285.60V288.00" stroke="#1e1e1e" stroke-width="0.9"/>
<path d="M85.40 286.80H87.80M86.60 285.60V288.00" stroke="#1e1e1e" stroke-width="0.9"/>
<path d="M87.40 286.80H89.80M88.60 285.60V288.00" stroke="#1e1e1e" stroke-width="0.9"/>
<path d="M92.20 292.40H94.60M93.40 291.20V293.60" stroke="#1e1e1e" stroke-width="0.9"/>
<polyline points="31.80,206.90 35.10,210.20 37.80,216.20 41.10,221.60 44.30,228.20 47.10,234.70 49.80,241.20 49.90,244.80 53.70,248.10 57.00,253.00 59.20,254.60 60.30,260.10 64.10,263.30 66.80,269.90 71.20,272.60 74.10,275.20 80.90,278.60 81.60,284.10 85.00,285.30 125.50,285.30 125.50,294.00 165.80,294.00" fill="none" stroke="#ec4a4a" stroke-width="0.9" stroke-linejoin="miter"/>
<polyline points="31.80,206.90 35.10,210.20 37.80,216.20 41.10,221.60 44.30,228.20 47.10,234.70 49.80,241.20 49.90,244.80 53.70,248.10 57.00,253.00" fill="none" stroke="#e8282c" stroke-width="1.9" stroke-linejoin="round" stroke-linecap="round"/>
<path d="M164.60 294.00H167.00M165.80 292.80V295.20" stroke="#e8282c" stroke-width="0.9"/>
<path d="M158.80 294.00H161.20M160.00 292.80V295.20" stroke="#e8282c" stroke-width="0.9"/>
<path d="M118.80 285.30H121.20M120.00 284.10V286.50" stroke="#e8282c" stroke-width="0.9"/>
<path d="M99.70 285.30H102.10M100.90 284.10V286.50" stroke="#e8282c" stroke-width="0.9"/>
<path d="M101.00 285.30H103.40M102.20 284.10V286.50" stroke="#e8282c" stroke-width="0.9"/>
<path d="M84.00 285.30H86.40M85.20 284.10V286.50" stroke="#e8282c" stroke-width="0.9"/>
<path d="M88.80 285.30H91.20M90.00 284.10V286.50" stroke="#e8282c" stroke-width="0.9"/>
<path d="M92.90 285.30H95.30M94.10 284.10V286.50" stroke="#e8282c" stroke-width="0.9"/>
<path d="M65.60 270.50H68.00M66.80 269.30V271.70" stroke="#e8282c" stroke-width="0.9"/>
<path d="M68.30 272.50H70.70M69.50 271.30V273.70" stroke="#e8282c" stroke-width="0.9"/>
<path d="M70.40 273.50H72.80M71.60 272.30V274.70" stroke="#e8282c" stroke-width="0.9"/>
<path d="M72.40 274.80H74.80M73.60 273.60V276.00" stroke="#e8282c" stroke-width="0.9"/>
<path d="M73.80 275.60H76.20M75.00 274.40V276.80" stroke="#e8282c" stroke-width="0.9"/>
<path d="M75.80 276.80H78.20M77.00 275.60V278.00" stroke="#e8282c" stroke-width="0.9"/>
<path d="M79.20 278.30H81.60M80.40 277.10V279.50" stroke="#e8282c" stroke-width="0.9"/><polyline points="215.40,206.90 220.40,218.30 223.10,224.90 225.30,230.30 227.40,235.80 229.90,241.50 232.10,247.00 234.30,252.40 237.00,257.90 239.20,263.30 242.40,267.70 245.20,271.00 247.50,274.50 249.50,276.60 253.60,277.90 257.70,280.00 261.80,283.40 265.20,285.40 265.90,288.80 277.50,288.80 278.10,294.20 348.80,294.40" fill="none" stroke="#484848" stroke-width="0.9" stroke-linejoin="miter"/>
<polyline points="215.40,206.90 220.40,218.30 223.10,224.90 225.30,230.30 227.40,235.80 229.90,241.50 232.10,247.00 234.30,252.40 237.00,257.90 239.20,263.30 242.40,267.70 245.20,271.00 247.50,274.50" fill="none" stroke="#1e1e1e" stroke-width="1.6" stroke-linejoin="round" stroke-linecap="round"/>
<path d="M287.80 294.40H290.20M289.00 293.20V295.60" stroke="#1e1e1e" stroke-width="0.9"/>
<path d="M304.20 294.40H306.60M305.40 293.20V295.60" stroke="#1e1e1e" stroke-width="0.9"/>
<path d="M341.00 294.40H343.40M342.20 293.20V295.60" stroke="#1e1e1e" stroke-width="0.9"/>
<path d="M347.20 294.40H349.60M348.40 293.20V295.60" stroke="#1e1e1e" stroke-width="0.9"/>
<path d="M282.80 294.40H285.20M284.00 293.20V295.60" stroke="#1e1e1e" stroke-width="0.9"/>
<path d="M239.20 265.70H241.60M240.40 264.50V266.90" stroke="#1e1e1e" stroke-width="0.9"/>
<path d="M242.00 267.70H244.40M243.20 266.50V268.90" stroke="#1e1e1e" stroke-width="0.9"/>
<path d="M245.40 273.20H247.80M246.60 272.00V274.40" stroke="#1e1e1e" stroke-width="0.9"/>
<path d="M246.70 274.50H249.10M247.90 273.30V275.70" stroke="#1e1e1e" stroke-width="0.9"/>
<path d="M251.50 276.60H253.90M252.70 275.40V277.80" stroke="#1e1e1e" stroke-width="0.9"/>
<path d="M254.20 277.90H256.60M255.40 276.70V279.10" stroke="#1e1e1e" stroke-width="0.9"/>
<path d="M256.30 278.60H258.70M257.50 277.40V279.80" stroke="#1e1e1e" stroke-width="0.9"/>
<path d="M261.00 282.70H263.40M262.20 281.50V283.90" stroke="#1e1e1e" stroke-width="0.9"/>
<path d="M263.10 284.10H265.50M264.30 282.90V285.30" stroke="#1e1e1e" stroke-width="0.9"/>
<path d="M265.80 288.80H268.20M267.00 287.60V290.00" stroke="#1e1e1e" stroke-width="0.9"/>
<path d="M267.90 288.80H270.30M269.10 287.60V290.00" stroke="#1e1e1e" stroke-width="0.9"/>
<path d="M270.60 288.80H273.00M271.80 287.60V290.00" stroke="#1e1e1e" stroke-width="0.9"/>
<path d="M272.60 288.80H275.00M273.80 287.60V290.00" stroke="#1e1e1e" stroke-width="0.9"/>
<polyline points="215.40,206.90 218.70,214.00 222.00,220.50 225.30,226.50 229.10,232.50 232.90,239.10 234.50,242.00 236.40,245.90 238.60,250.30 241.30,254.60 243.00,258.40 244.10,263.30 246.80,269.10 248.90,273.20 249.50,277.30 264.50,277.30 265.20,282.00 275.40,282.00 276.10,286.80 309.10,286.90 309.10,298.50 352.00,298.50" fill="none" stroke="#ec4a4a" stroke-width="0.9" stroke-linejoin="miter"/>
<polyline points="215.40,206.90 218.70,214.00 222.00,220.50 225.30,226.50 229.10,232.50 232.90,239.10 234.50,242.00 236.40,245.90 238.60,250.30 241.30,254.60 243.00,258.40 244.10,263.30" fill="none" stroke="#e8282c" stroke-width="1.9" stroke-linejoin="round" stroke-linecap="round"/>
<path d="M350.80 298.50H353.20M352.00 297.30V299.70" stroke="#e8282c" stroke-width="0.9"/>
<path d="M283.80 286.90H286.20M285.00 285.70V288.10" stroke="#e8282c" stroke-width="0.9"/>
<path d="M288.80 286.90H291.20M290.00 285.70V288.10" stroke="#e8282c" stroke-width="0.9"/>
<path d="M239.20 252.70H241.60M240.40 251.50V253.90" stroke="#e8282c" stroke-width="0.9"/>
<path d="M242.00 260.20H244.40M243.20 259.00V261.40" stroke="#e8282c" stroke-width="0.9"/>
<path d="M243.30 265.00H245.70M244.50 263.80V266.20" stroke="#e8282c" stroke-width="0.9"/>
<path d="M246.10 270.40H248.50M247.30 269.20V271.60" stroke="#e8282c" stroke-width="0.9"/>
<path d="M248.80 277.30H251.20M250.00 276.10V278.50" stroke="#e8282c" stroke-width="0.9"/>
<path d="M251.50 277.30H253.90M252.70 276.10V278.50" stroke="#e8282c" stroke-width="0.9"/>
<path d="M257.60 277.30H260.00M258.80 276.10V278.50" stroke="#e8282c" stroke-width="0.9"/>
<path d="M262.40 277.30H264.80M263.60 276.10V278.50" stroke="#e8282c" stroke-width="0.9"/>
<path d="M276.00 286.90H278.40M277.20 285.70V288.10" stroke="#e8282c" stroke-width="0.9"/>
<path d="M282.20 286.90H284.60M283.40 285.70V288.10" stroke="#e8282c" stroke-width="0.9"/><polyline points="31.80,388.90 36.00,396.00 40.50,404.00 45.00,413.00 49.80,423.00 54.00,432.00 57.00,439.50 58.20,444.10 60.90,448.20 65.00,450.20 68.40,453.60 73.80,457.70 79.30,458.40 81.30,461.80 94.30,461.80 95.40,468.70 169.10,468.70" fill="none" stroke="#484848" stroke-width="0.9" stroke-linejoin="miter"/>
<polyline points="31.80,388.90 36.00,396.00 40.50,404.00 45.00,413.00 49.80,423.00 54.00,432.00 57.00,439.50 58.20,444.10" fill="none" stroke="#1e1e1e" stroke-width="1.6" stroke-linejoin="round" stroke-linecap="round"/>
<path d="M99.20 468.70H101.60M100.40 467.50V469.90" stroke="#1e1e1e" stroke-width="0.9"/>
<path d="M104.70 468.70H107.10M105.90 467.50V469.90" stroke="#1e1e1e" stroke-width="0.9"/>
<path d="M158.10 468.70H160.50M159.30 467.50V469.90" stroke="#1e1e1e" stroke-width="0.9"/>
<path d="M164.00 468.70H166.40M165.20 467.50V469.90" stroke="#1e1e1e" stroke-width="0.9"/>
<path d="M167.50 468.70H169.90M168.70 467.50V469.90" stroke="#1e1e1e" stroke-width="0.9"/>
<path d="M57.00 442.00H59.40M58.20 440.80V443.20" stroke="#1e1e1e" stroke-width="0.9"/>
<path d="M59.70 448.20H62.10M60.90 447.00V449.40" stroke="#1e1e1e" stroke-width="0.9"/>
<path d="M62.40 448.90H64.80M63.60 447.70V450.10" stroke="#1e1e1e" stroke-width="0.9"/>
<path d="M67.90 453.60H70.30M69.10 452.40V454.80" stroke="#1e1e1e" stroke-width="0.9"/>
<path d="M70.60 455.70H73.00M71.80 454.50V456.90" stroke="#1e1e1e" stroke-width="0.9"/>
<path d="M72.60 457.70H75.00M73.80 456.50V458.90" stroke="#1e1e1e" stroke-width="0.9"/>
<path d="M74.70 458.00H77.10M75.90 456.80V459.20" stroke="#1e1e1e" stroke-width="0.9"/>
<path d="M77.40 458.40H79.80M78.60 457.20V459.60" stroke="#1e1e1e" stroke-width="0.9"/>
<path d="M81.50 461.80H83.90M82.70 460.60V463.00" stroke="#1e1e1e" stroke-width="0.9"/>
<path d="M84.20 461.80H86.60M85.40 460.60V463.00" stroke="#1e1e1e" stroke-width="0.9"/>
<path d="M86.90 461.80H89.30M88.10 460.60V463.00" stroke="#1e1e1e" stroke-width="0.9"/>
<path d="M89.70 461.80H92.10M90.90 460.60V463.00" stroke="#1e1e1e" stroke-width="0.9"/>
<path d="M92.40 461.80H94.80M93.60 460.60V463.00" stroke="#1e1e1e" stroke-width="0.9"/>
<polyline points="31.80,388.90 36.00,396.00 40.50,404.00 45.00,413.00 49.80,423.00 54.00,432.00 55.40,440.00 56.10,444.80 59.50,447.50 61.60,453.60 63.60,459.10 67.00,462.50 74.50,462.50 76.60,465.20 78.60,467.20 81.30,467.20 82.70,474.70 90.90,474.70 92.00,478.80 125.50,478.80 125.50,491.00" fill="none" stroke="#ec4a4a" stroke-width="0.9" stroke-linejoin="miter"/>
<polyline points="31.80,388.90 36.00,396.00 40.50,404.00 45.00,413.00 49.80,423.00 54.00,432.00 55.40,440.00 56.10,444.80" fill="none" stroke="#e8282c" stroke-width="1.9" stroke-linejoin="round" stroke-linecap="round"/>
<path d="M124.30 491.00H126.70M125.50 489.80V492.20" stroke="#e8282c" stroke-width="0.9"/>
<path d="M101.40 478.80H103.80M102.60 477.60V480.00" stroke="#e8282c" stroke-width="0.9"/>
<path d="M121.00 478.80H123.40M122.20 477.60V480.00" stroke="#e8282c" stroke-width="0.9"/>
<path d="M54.90 444.80H57.30M56.10 443.60V446.00" stroke="#e8282c" stroke-width="0.9"/>
<path d="M61.10 454.30H63.50M62.30 453.10V455.50" stroke="#e8282c" stroke-width="0.9"/>
<path d="M63.10 459.10H65.50M64.30 457.90V460.30" stroke="#e8282c" stroke-width="0.9"/>
<path d="M65.80 462.50H68.20M67.00 461.30V463.70" stroke="#e8282c" stroke-width="0.9"/>
<path d="M70.60 462.50H73.00M71.80 461.30V463.70" stroke="#e8282c" stroke-width="0.9"/>
<path d="M77.40 467.20H79.80M78.60 466.00V468.40" stroke="#e8282c" stroke-width="0.9"/>
<path d="M80.80 467.20H83.20M82.00 466.00V468.40" stroke="#e8282c" stroke-width="0.9"/>
<path d="M81.50 474.70H83.90M82.70 473.50V475.90" stroke="#e8282c" stroke-width="0.9"/>
<path d="M93.10 478.80H95.50M94.30 477.60V480.00" stroke="#e8282c" stroke-width="0.9"/>
<polyline points="31.50,389.20 35.70,396.30 40.20,404.30 44.70,413.30 49.50,423.30 53.70,432.30 57.00,439.50" fill="none" stroke="#1e1e1e" stroke-width="1.3" stroke-dasharray="1.6 2.2"/>
</svg></body></html>
